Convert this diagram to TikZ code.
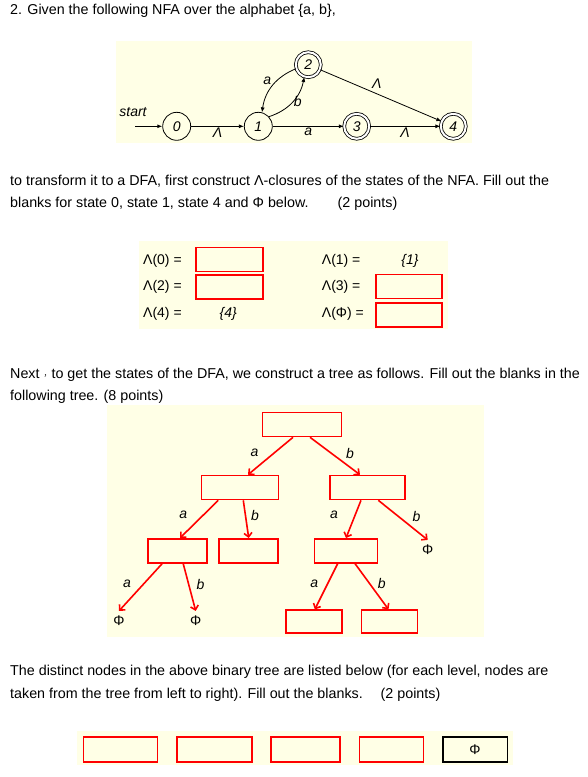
\documentclass[tikz,border=0pt]{standalone}
\usepackage{fontspec}
\setmainfont{Liberation Sans}
\newfontfamily\cjkfont{Noto Sans CJK SC}
\usetikzlibrary{arrows.meta,positioning}
\definecolor{paper}{HTML}{FFFFE6}

\begin{document}
\begin{tikzpicture}[x=1pt,y=-1pt,
  every node/.style={font=\fontsize{14}{16}\selectfont},
  txt/.style={anchor=base west,inner sep=0pt},
  para/.style={txt,font=\fontsize{14.3}{16}\selectfont},
  lab/.style={text=black,font=\fontsize{14}{16}\selectfont\itshape,inner sep=1pt},
  state/.style={circle,draw,line width=0.8pt,minimum size=28pt,inner sep=0pt,
    font=\fontsize{14}{16}\selectfont\itshape},
  accept/.style={state,double,double distance=2pt,minimum size=25pt},
  nfa/.style={line width=0.8pt,-{Latex[length=5pt,width=4pt]}},
  blank/.style={draw=red,line width=1.6pt,minimum height=24pt,minimum width=#1,inner sep=0pt},
  blank/.default=60pt,
  branch/.style={red,line width=1.6pt,-{Straight Barb[length=4pt,width=8pt]}},
  phi/.style={inner sep=5pt}]
  \useasboundingbox (0,0) rectangle (588,777);
  \fill[white] (0,0) rectangle (588,777);

  \node[para] (q) at (10,14.2) {2. Given the following NFA over the alphabet \{a, b\},};

  % the NFA
  \fill[paper] (116,41) rectangle (472,143);
  \node[state] (s0) at (176.7,126.3) {0};
  \node[state] (s1) at (258.3,126.3) {1};
  \node[accept] (s2) at (308.3,64.7) {2};
  \node[accept] (s3) at (356.7,126.3) {3};
  \node[accept] (s4) at (453.3,126.3) {4};
  \coordinate (in) at (135,126.3);
  \node[lab] (startlab) at (133,112) {start};
  \draw[nfa,line width=1.6pt] (in) -- (s0);
  \draw[nfa] (s0) -- node[lab,below]{Λ} (s1);
  \draw[nfa] (s1) -- node[lab,below]{a} (s3);
  \draw[nfa] (s3) -- node[lab,below]{Λ} (s4);
  \draw[nfa] (s2) -- node[lab,above=6pt,xshift=-4pt]{Λ} (s4);
  \draw[nfa] (s2.198) to[bend right=30] node[lab,above left]{a} (s1.75);
  \draw[nfa] (s1.42) to[bend right=30] node[lab,right]{b} (s2.252);

  \node[para] (p1) at (10,185) {to transform it to a DFA, first construct Λ-closures of the states of the NFA. Fill out the};
  \node[para] (p2) at (10,207.5) {blanks for state 0, state 1, state 4 and Φ below.};
  \node[para] (p2pts) at (337.5,207.5) {(2 points)};

  % closures
  \fill[paper] (139,241) rectangle (448,328.5);
  \node[txt] (lam0) at (143,264) {Λ(0) =};
  \node[txt] (lam2) at (143,290.5) {Λ(2) =};
  \node[txt] (lam4) at (143,317) {Λ(4) =};
  \node[txt] (lam1) at (321.7,264) {Λ(1) =};
  \node[txt] (lam3) at (321.7,290.5) {Λ(3) =};
  \node[txt] (lamphi) at (321.7,317) {Λ(Φ) =};
  \node[lab,anchor=base] (set1) at (410,264) {\{1\}};
  \node[lab,anchor=base] (set4) at (228.3,317) {\{4\}};
  \node[blank=67pt] (cl0) at (229.2,259.3) {};
  \node[blank=67pt] (cl2) at (229.2,286.8) {};
  \node[blank=66pt] (cl3) at (409,286.3) {};
  \node[blank=66pt] (clphi) at (409,315.2) {};

  \node[para] (p3) at (10,378) {Next {\cjkfont\fontsize{8}{8}\selectfont\raisebox{2pt}{，}}to get the states of the DFA, we construct a tree as follows. Fill out the blanks in the};
  \node[para] (p4) at (10,400.5) {following tree. (8 points)};

  % the tree
  \fill[paper] (107,405) rectangle (484,637);
  \node[blank=79pt] (root) at (302,424.5) {};
  \node[blank=77pt] (l1a) at (240,487.5) {};
  \node[blank=75pt] (l1b) at (367.5,487.5) {};
  \node[blank=59pt] (l2a) at (177.2,550.8) {};
  \node[blank=59pt] (l2b) at (248.7,550.8) {};
  \node[blank=63pt] (l2c) at (346,550.8) {};
  \node[phi] (phi1) at (427.7,550) {Φ};
  \node[phi] (phi2) at (119,621) {Φ};
  \node[phi] (phi3) at (195.7,621) {Φ};
  \node[blank=56pt,minimum height=23pt] (l3a) at (313.8,621.7) {};
  \node[blank=56pt,minimum height=23pt] (l3b) at (389.5,621.7) {};
  \draw[branch] ([xshift=-9pt]root.south) -- node[lab,xshift=-16pt,yshift=3pt]{a} ([xshift=8pt]l1a.north);
  \draw[branch] ([xshift=8pt]root.south) -- node[lab,xshift=15pt,yshift=3pt]{b} ([xshift=-7.5pt]l1b.north);
  \draw[branch] ([xshift=-21.7pt]l1a.south) -- node[lab,xshift=-16pt,yshift=4pt]{a} ([xshift=2.8pt]l2a.north);
  \draw[branch] ([xshift=3.3pt]l1a.south) -- node[lab,xshift=9pt,yshift=4pt]{b} (l2b.north);
  \draw[branch] ([xshift=-6.5pt]l1b.south) -- node[lab,xshift=-19.5pt,yshift=4pt]{a} (l2c.north);
  \draw[branch] ([xshift=10.8pt]l1b.south) -- node[lab,xshift=13.4pt,yshift=4pt]{b} (phi1.north);
  \draw[branch] ([xshift=-15pt]l2a.south) -- node[lab,xshift=-13.5pt,yshift=3pt]{a} (phi2.north);
  \draw[branch] ([xshift=6pt]l2a.south) -- node[lab,xshift=11pt,yshift=3pt]{b} (phi3.north);
  \draw[branch] ([xshift=-8.3pt]l2c.south) -- node[lab,xshift=-12pt,yshift=3pt]{a} ([xshift=1pt]l3a.north);
  \draw[branch] ([xshift=9pt]l2c.south) -- node[lab,xshift=10pt,yshift=3pt]{b} ([xshift=-1pt]l3b.north);

  \node[para] (p5) at (10,675.5) {The distinct nodes in the above binary tree are listed below (for each level, nodes are};
  \node[para] (p6) at (10,698) {taken from the tree from left to right). Fill out the blanks.};
  \node[para] (p6pts) at (380.5,698) {(2 points)};

  % distinct nodes
  \fill[paper] (77,731) rectangle (513,764.5);
  \foreach \x/\w [count=\i] in {120.3/74,214.2/75,305.3/69,391.3/64}
    \node[blank=\w pt,minimum height=25pt] (d\i) at (\x,749.2) {};
  \node[draw,line width=1.6pt,minimum width=64.6pt,minimum height=25pt,inner sep=0pt] (d5) at (475,749.2) {Φ};
\end{tikzpicture}
\end{document}
